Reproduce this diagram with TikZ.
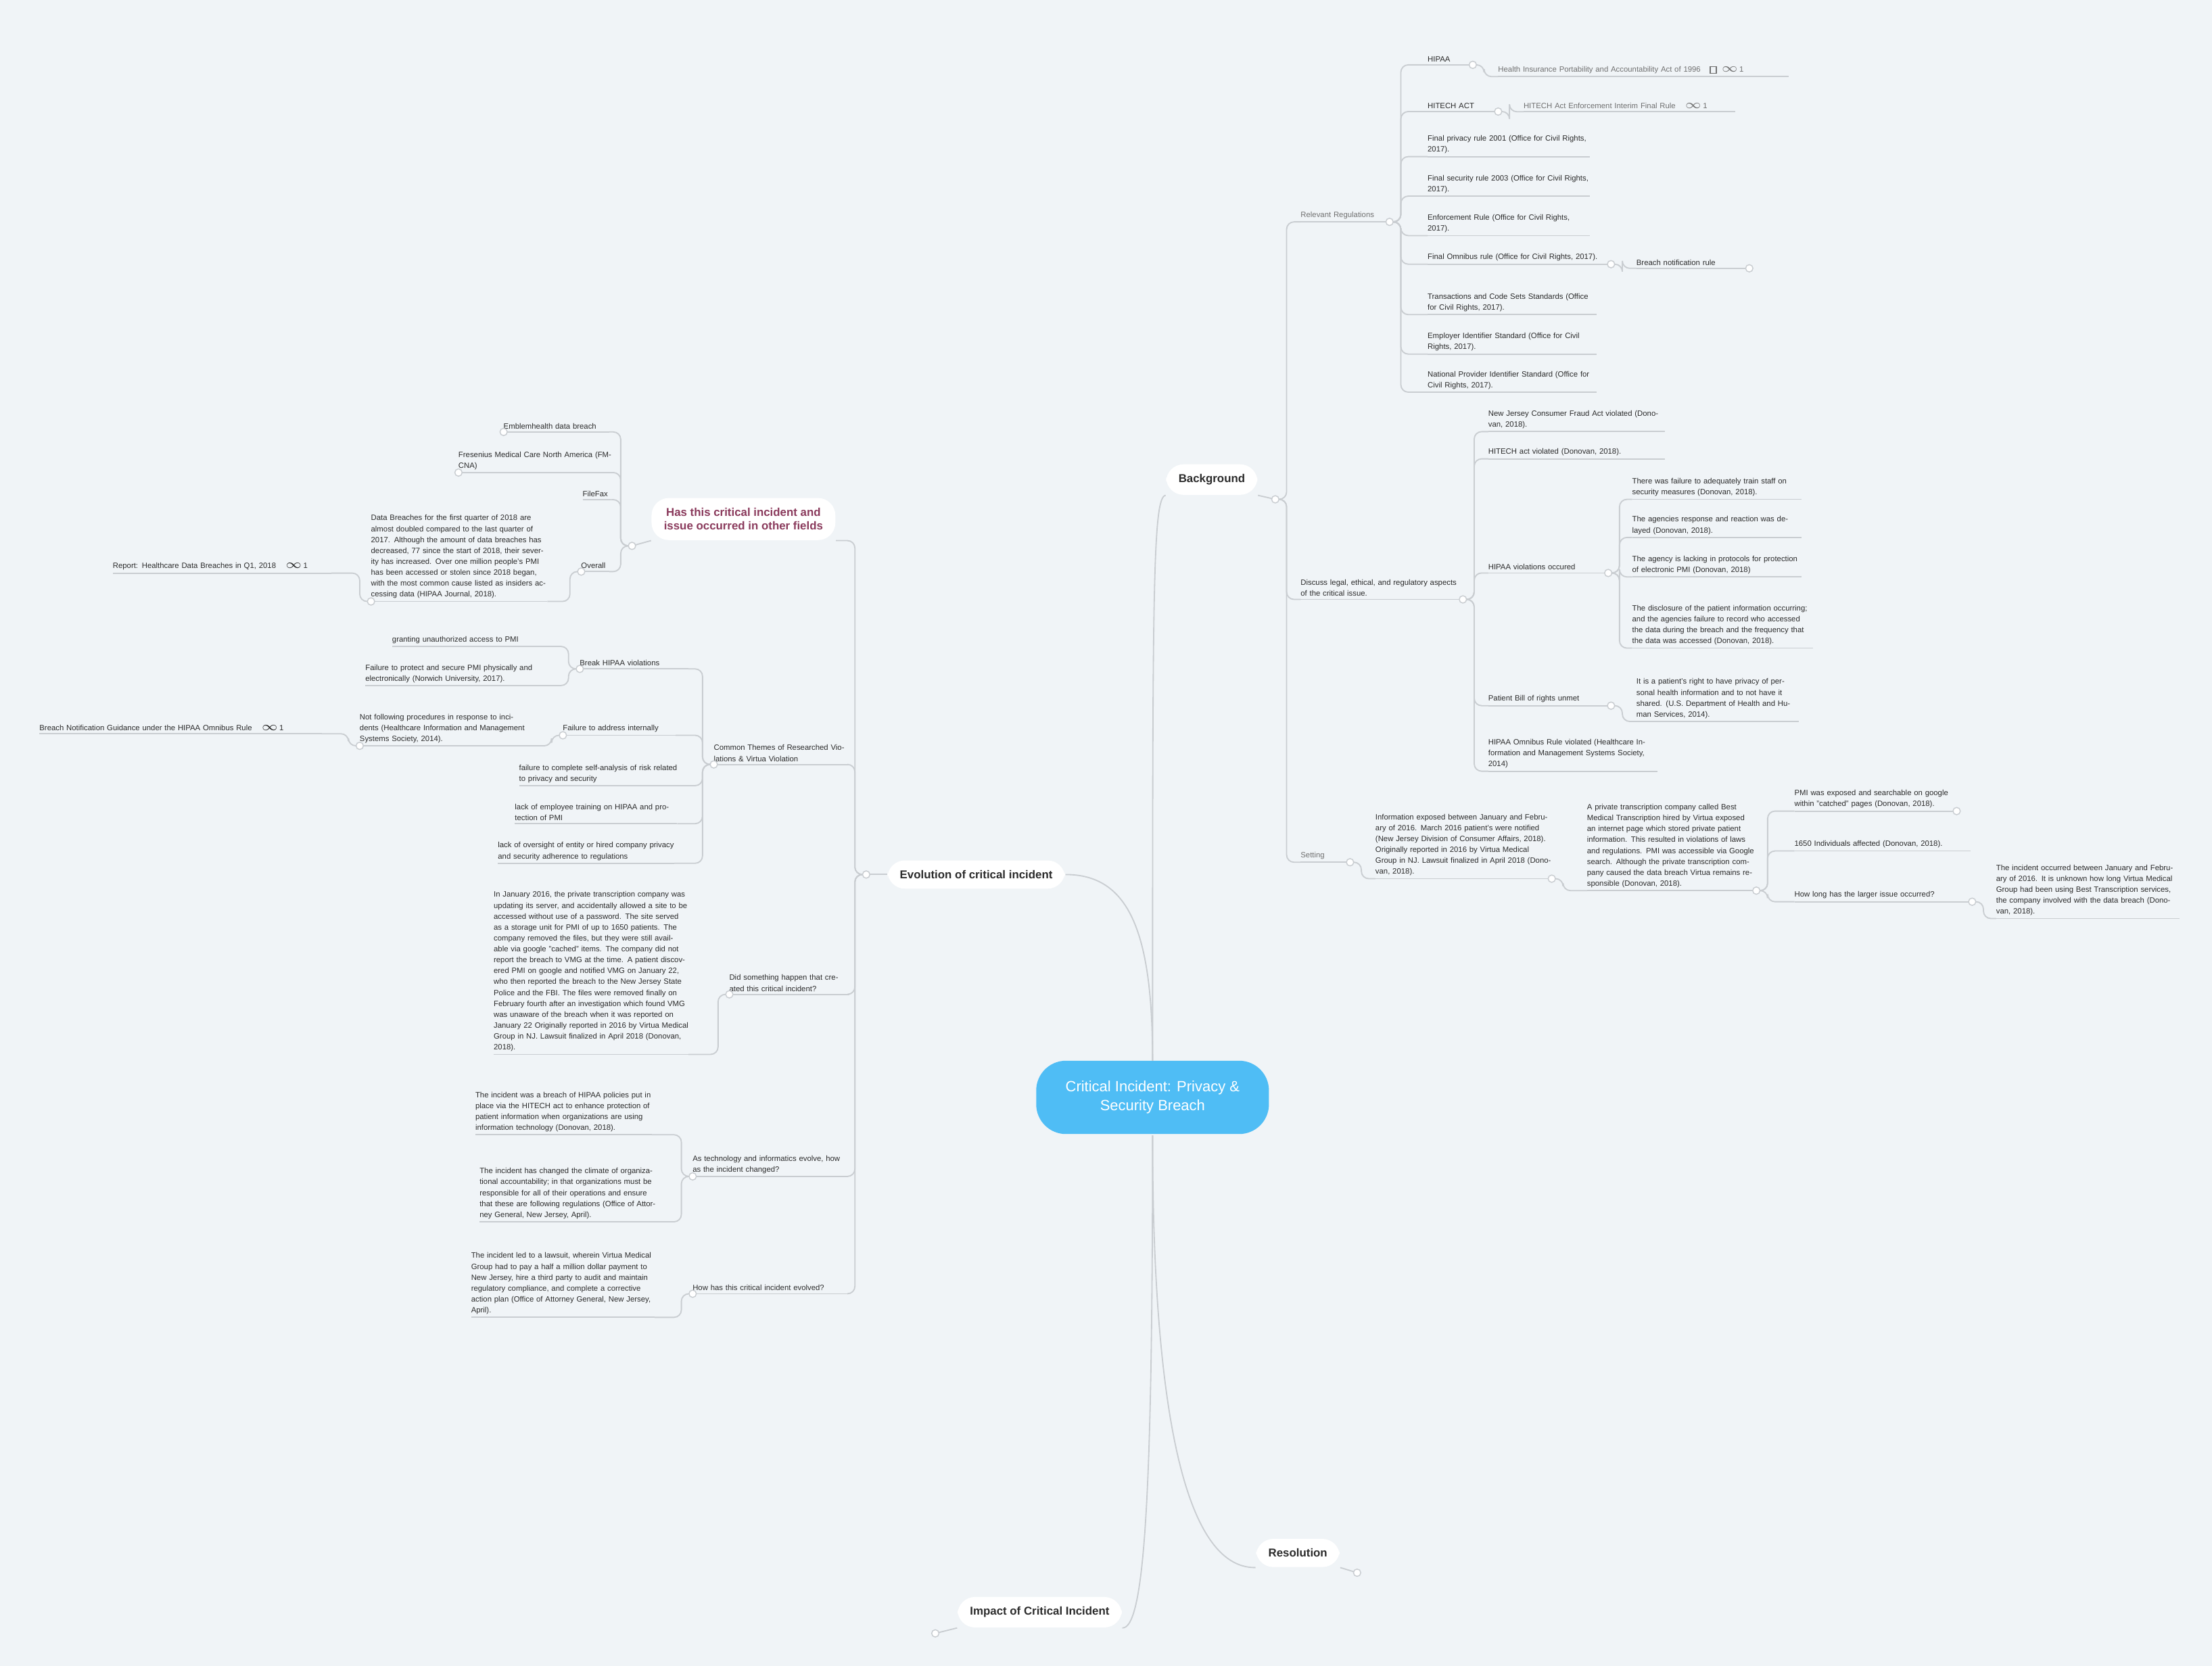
\documentclass[tikz,border=0pt]{standalone}
\usepackage{fontspec}
\setmainfont{Liberation Sans}
\definecolor{bgc}{HTML}{F0F4F7}
\definecolor{linec}{HTML}{C9CDD1}
\definecolor{txt}{HTML}{2B2B2B}
\definecolor{grayt}{HTML}{707070}
\definecolor{cen}{HTML}{4FBDF5}
\definecolor{maroon}{HTML}{8A3A5C}
\newcommand\ftxt{\fontsize{3.1}{4.4}\selectfont}
\newcommand\conR[2]{\draw[conn,rounded corners=3pt] (#1) -- ++(8,0) |- (#2);}
\newcommand\conL[2]{\draw[conn,rounded corners=3pt] (#1) -- ++(-8,0) |- (#2);}
\newcommand\imgicon{{\fboxsep=0.3pt\fboxrule=0.3pt\fbox{\phantom{x}}}}
\tikzset{
 conn/.style={draw=linec,line width=0.5pt},
 lf/.style={anchor=north west,align=left,font=\ftxt,text=txt,inner xsep=0pt,inner ysep=1.2pt,outer sep=0pt,
   append after command={(\tikzlastnode.south west) edge[conn] (\tikzlastnode.south east)}},
 pill/.style={fill=white,rounded corners=7pt,font=\fontsize{4.6}{5.6}\selectfont\bfseries,text=txt,inner xsep=5pt,inner ysep=4pt,align=center},
 jn/.style={draw=linec,fill=white,line width=0.4pt},
}
\begin{document}
\begin{tikzpicture}[x=0.02cm,y=-0.02cm]
\fill[bgc] (0,0) rectangle (1568,1181);
\useasboundingbox (0,0) rectangle (1568,1181);

% central and main branches
\node[fill=cen,rounded corners=12pt,text=white,font=\fontsize{6}{7.6}\selectfont,align=center,minimum width=3.3cm,minimum height=1.04cm] (cen) at (817,778) {Critical Incident: Privacy \&\\Security Breach};
\node[pill] (bg) at (859,340) {Background};
\node[pill] (evo) at (692,620) {Evolution of critical incident};
\node[pill] (res) at (920,1101) {Resolution};
\node[pill] (imp) at (737,1143) {Impact of Critical Incident};
\node[pill,text=maroon] (hp) at (527,368) {Has this critical incident and\\issue occurred in other fields};
\coordinate (jbg) at (904,354);
\coordinate (jevo) at (614,620);
\coordinate (jres) at (962,1115);
\coordinate (jimp) at (663,1158);
\coordinate (jhp) at (448,387);
\draw[conn] (817,752) .. controls (817,420) and (817,352) .. (bg.south west);
\draw[conn] (817,752) .. controls (817,660) and (800,620) .. (evo.east);
\draw[conn] (817,805) .. controls (817,1000) and (840,1112) .. (res.south west);
\draw[conn] (817,805) .. controls (817,1050) and (812,1155) .. (imp.south east);
\draw[conn] (bg.south east) -- (jbg);
\draw[conn] (res.south east) -- (jres);
\draw[conn] (imp.south west) -- (jimp);
\draw[conn] (evo.west) -- (jevo);
\draw[conn] (hp.south west) -- (jhp);

% ---------- right side ----------
\node[lf,text=grayt,text width=1.26cm] (rr) at (922,148) {Relevant Regulations};
\node[lf,text width=0.64cm] (hipaa) at (1012,38) {HIPAA};
\node[lf,text=grayt,text width=4.12cm] (hipaaC) at (1062,45) {Health Insurance Portability and Accountability Act of 1996\hspace{1.2em}\imgicon\hspace{0.6em}$\infty$\,1};
\node[lf,text width=1.0cm] (hitech) at (1012,71) {HITECH ACT};
\node[lf,text=grayt,text width=3.0cm] (hitechC) at (1080,71) {HITECH Act Enforcement Interim Final Rule\hspace{1.2em}$\infty$\,1};
\node[lf,text width=2.3cm] (fpr) at (1012,94) {Final privacy rule 2001 (Office for Civil Rights, 2017).};
\node[lf,text width=2.3cm] (fsr) at (1012,122) {Final security rule 2003 (Office for Civil Rights, 2017).};
\node[lf,text width=2.3cm] (enf) at (1012,150) {Enforcement Rule (Office for Civil Rights, 2017).};
\node[lf,text width=2.6cm] (omni) at (1012,178) {Final Omnibus rule (Office for Civil Rights, 2017).};
\node[lf,text width=1.6cm] (bnr) at (1160,182) {Breach notification rule};
\node[lf,text width=2.4cm] (tcs) at (1012,206) {Transactions and Code Sets Standards (Office for Civil Rights, 2017).};
\node[lf,text width=2.4cm] (eis) at (1012,234) {Employer Identifier Standard (Office for Civil Rights, 2017).};
\node[lf,text width=2.4cm] (npi) at (1012,261) {National Provider Identifier Standard (Office for Civil Rights, 2017).};

\node[lf,text width=2.3cm] (disc) at (922,409) {Discuss legal, ethical, and regulatory aspects of the critical issue.};
\node[lf,text width=2.5cm] (nj) at (1055,289) {New Jersey Consumer Fraud Act violated (Donovan, 2018).};
\node[lf,text width=2.5cm] (hv) at (1055,316) {HITECH act violated (Donovan, 2018).};
\node[lf,text width=1.7cm] (hvo) at (1055,398) {HIPAA violations occured};
\node[lf,text width=2.4cm] (h1) at (1157,337) {There was failure to adequately train staff on security measures (Donovan, 2018).};
\node[lf,text width=2.4cm] (h2) at (1157,364) {The agencies response and reaction was delayed (Donovan, 2018).};
\node[lf,text width=2.4cm] (h3) at (1157,392) {The agency is lacking in protocols for protection of electronic PMI (Donovan, 2018)};
\node[lf,text width=2.56cm] (h4) at (1157,427) {The disclosure of the patient information occurring; and the agencies failure to record who accessed the data during the breach and the frequency that the data was accessed (Donovan, 2018).};
\node[lf,text width=1.74cm] (pbr) at (1055,491) {Patient Bill of rights unmet};
\node[lf,text width=2.3cm] (pbrC) at (1160,479) {It is a patient's right to have privacy of personal health information and to not have it shared. (U.S. Department of Health and Human Services, 2014).};
\node[lf,text width=2.4cm] (omv) at (1055,522) {HIPAA Omnibus Rule violated (Healthcare Information and Management Systems Society, 2014)};

\node[lf,text=grayt,text width=0.7cm] (set) at (922,602) {Setting};
\node[lf,text width=2.5cm] (s1) at (975,575) {Information exposed between January and February of 2016. March 2016 patient's were notified (New Jersey Division of Consumer Affairs, 2018). Originally reported in 2016 by Virtua Medical Group in NJ. Lawsuit finalized in April 2018 (Donovan, 2018).};
\node[lf,text width=2.4cm] (s2) at (1125,568) {A private transcription company called Best Medical Transcription hired by Virtua exposed an internet page which stored private patient information. This resulted in violations of laws and regulations. PMI was accessible via Google search. Although the private transcription company caused the data breach Virtua remains responsible (Donovan, 2018).};
\node[lf,text width=2.3cm] (s3a) at (1272,558) {PMI was exposed and searchable on google within "catched" pages (Donovan, 2018).};
\node[lf,text width=2.5cm] (s3b) at (1272,594) {1650 Individuals affected (Donovan, 2018).};
\node[lf,text width=2.52cm] (s3c) at (1272,630) {How long has the larger issue occurred?};
\node[lf,text width=2.6cm] (s4) at (1415,611) {The incident occurred between January and February of 2016. It is unknown how long Virtua Medical Group had been using Best Transcription services, the company involved with the data breach (Donovan, 2018).};

\foreach \c in {rr,disc,set} {\conR{jbg}{\c.south west}}
\foreach \c in {hipaa,hitech,fpr,fsr,enf,omni,tcs,eis,npi} {\conR{rr.south east}{\c.south west}}
\conR{hipaa.south east}{hipaaC.south west}
\conR{hitech.south east}{hitechC.south west}
\conR{omni.south east}{bnr.south west}
\foreach \c in {nj,hv,hvo,pbr,omv} {\conR{disc.south east}{\c.south west}}
\foreach \c in {h1,h2,h3,h4} {\conR{hvo.south east}{\c.south west}}
\conR{pbr.south east}{pbrC.south west}
\conR{set.south east}{s1.south west}
\conR{s1.south east}{s2.south west}
\foreach \c in {s3a,s3b,s3c} {\conR{s2.south east}{\c.south west}}
\conR{s3c.south east}{s4.south west}

% ---------- left side ----------
\node[lf,text width=1.5cm] (emb) at (357,298) {Emblemhealth data breach};
\node[lf,text width=2.2cm] (fre) at (325,318) {Fresenius Medical Care North America (FMCNA)};
\node[lf,text width=0.4cm] (ffx) at (413,346) {FileFax};
\node[lf,text width=0.4cm] (ovr) at (412,397) {Overall};
\node[lf,text width=2.5cm] (dbr) at (263,363) {Data Breaches for the first quarter of 2018 are almost doubled compared to the last quarter of 2017. Although the amount of data breaches has decreased, 77 since the start of 2018, their severity has increased. Over one million people's PMI has been accessed or stolen since 2018 began, with the most common cause listed as insiders accessing data (HIPAA Journal, 2018).};
\node[lf,text width=3.1cm] (rep) at (80,397) {Report: Healthcare Data Breaches in Q1, 2018\hspace{1.2em}$\infty$\,1};

\node[lf,text width=1.9cm] (cth) at (506,526) {Common Themes of Researched Violations \& Virtua Violation};
\node[lf,text width=1.54cm] (bhv) at (411,466) {Break HIPAA violations};
\node[lf,text width=2.0cm] (gua) at (278,449) {granting unauthorized access to PMI};
\node[lf,text width=2.5cm] (ftp) at (259,469) {Failure to protect and secure PMI physically and electronically (Norwich University, 2017).};
\node[lf,text width=1.6cm] (fai) at (399,512) {Failure to address internally};
\node[lf,text width=2.4cm] (nfp) at (255,504) {Not following procedures in response to incidents (Healthcare Information and Management Systems Society, 2014).};
\node[lf,text width=4.0cm] (bng) at (28,512) {Breach Notification Guidance under the HIPAA Omnibus Rule\hspace{1.2em}$\infty$\,1};
\node[lf,text width=2.3cm] (fcs) at (368,540) {failure to complete self-analysis of risk related to privacy and security};
\node[lf,text width=2.3cm] (let) at (365,568) {lack of employee training on HIPAA and protection of PMI};
\node[lf,text width=2.5cm] (loe) at (353,595) {lack of oversight of entity or hired company privacy and security adherence to regulations};
\node[lf,text width=1.7cm] (dsh) at (517,689) {Did something happen that created this critical incident?};
\node[lf,text width=2.76cm] (dshC) at (350,630) {In January 2016, the private transcription company was updating its server, and accidentally allowed a site to be accessed without use of a password. The site served as a storage unit for PMI of up to 1650 patients. The company removed the files, but they were still available via google "cached" items. The company did not report the breach to VMG at the time. A patient discovered PMI on google and notified VMG on January 22, who then reported the breach to the New Jersey State Police and the FBI. The files were removed finally on February fourth after an investigation which found VMG was unaware of the breach when it was reported on January 22 Originally reported in 2016 by Virtua Medical Group in NJ. Lawsuit finalized in April 2018 (Donovan, 2018).};
\node[lf,text width=2.2cm] (ast) at (491,817) {As technology and informatics evolve, how as the incident changed?};
\node[lf,text width=2.5cm] (ast1) at (337,772) {The incident was a breach of HIPAA policies put in place via the HITECH act to enhance protection of patient information when organizations are using information technology (Donovan, 2018).};
\node[lf,text width=2.5cm] (ast2) at (340,826) {The incident has changed the climate of organizational accountability; in that organizations must be responsible for all of their operations and ensure that these are following regulations (Office of Attorney General, New Jersey, April).};
\node[lf,text width=2.2cm] (hhe) at (491,909) {How has this critical incident evolved?};
\node[lf,text width=2.6cm] (hheC) at (334,886) {The incident led to a lawsuit, wherein Virtua Medical Group had to pay a half a million dollar payment to New Jersey, hire a third party to audit and maintain regulatory compliance, and complete a corrective action plan (Office of Attorney General, New Jersey, April).};

\draw[conn,rounded corners=3pt] (jevo) -- ++(-8,0) |- (hp.south east);
\foreach \c in {cth,dsh,ast,hhe} {\conL{jevo}{\c.south east}}
\foreach \c in {emb,fre,ffx,ovr} {\conL{jhp}{\c.south east}}
\conL{ovr.south west}{dbr.south east}
\conL{dbr.south west}{rep.south east}
\foreach \c in {bhv,fai,fcs,let,loe} {\conL{cth.south west}{\c.south east}}
\foreach \c in {gua,ftp} {\conL{bhv.south west}{\c.south east}}
\conL{fai.south west}{nfp.south east}
\conL{nfp.south west}{bng.south east}
\conL{dsh.south west}{dshC.south east}
\foreach \c in {ast1,ast2} {\conL{ast.south west}{\c.south east}}
\conL{hhe.south west}{hheC.south east}

% junction circles
\foreach \p in {jbg,jevo,jres,jimp,jhp,rr.south east,hipaa.south east,hitech.south east,omni.south east,bnr.south east,disc.south east,hvo.south east,pbr.south east,set.south east,s1.south east,s2.south east,s3a.south east,s3c.south east,emb.south west,fre.south west,ovr.south west,dbr.south west,cth.south west,bhv.south west,fai.south west,nfp.south west,dsh.south west,ast.south west,hhe.south west}
  {\draw[jn] (\p) circle (2.6);}
\end{tikzpicture}
\end{document}
